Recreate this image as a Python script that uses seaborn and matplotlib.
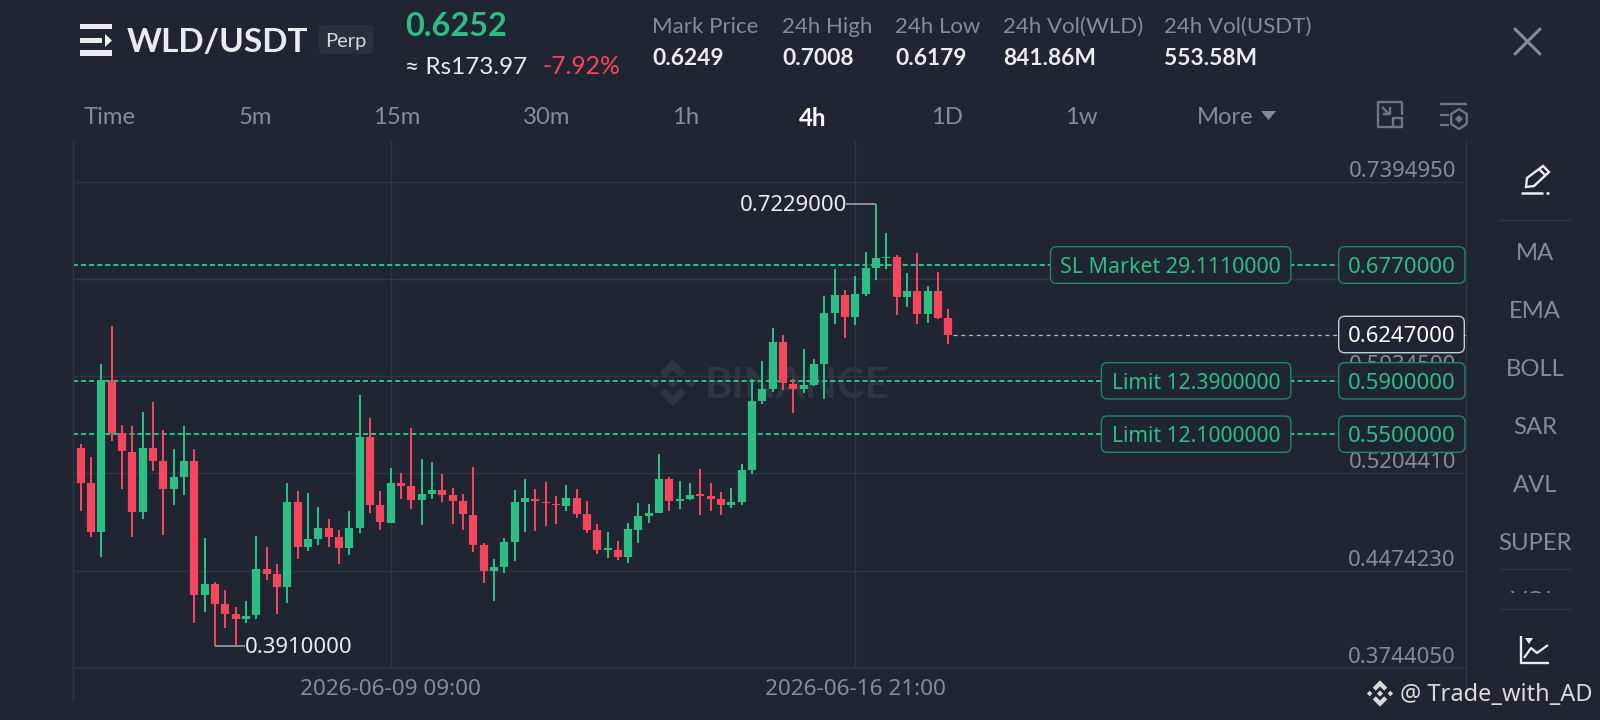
import numpy as np
import pandas as pd
import matplotlib
matplotlib.use("Agg")
import matplotlib.pyplot as plt
import seaborn as sns
from matplotlib.patches import FancyBboxPatch, Polygon, Rectangle

# Candles (first one is cut by the left edge)
start_index = -1
opens = [.5413, .5398, .51299, .47616, .58991, .55057, .53679, .49144, .5393, .52952, .50898, .518, .53002, .4288, .43757, .42229, .41502, .41101, .41377, .44835, .44509, .43507, .49871, .46538, .47115, .47916, .4724, .46463,
         .47967, .54757, .49645, .48342, .51299, .51073, .50046, .50522, .50773, .50422, .49946, .48919, .46664, .44684, .45035, .46889, .49921, .50146, .49921, .49771, .4962, .50197, .48969, .47766, .46288, .46288, .45762,
         .47813, .48868, .49094, .51599, .49971, .50121, .50472, .50321, .50096, .4967, .4987, .52301, .57462, .58389, .61947, .58765, .58389, .58715, .60268, .64127, .6543, .63826, .65555, .67509, .68211, .68311, .65279, .65755, .64052, .6578, .63701]
closes = [.5398, .51299, .47616, .59041, .55057, .53704, .49144, .5393, .52952, .50898, .518, .52977, .4288, .43732, .42229, .41502, .41101, .41352, .44835, .44509, .43507, .49871, .46538, .47115, .47916, .4724, .46463, .47916,
          .54757, .49695, .48367, .51299, .51124, .50046, .50497, .50773, .50447, .49971, .48969, .46689, .44709, .45035, .46889, .49921, .50171, .49946, .49796, .49645, .50197, .48994, .47791, .46288, .46413, .45762, .47841,
          .48868, .49094, .51599, .49996, .50121, .50447, .50346, .50121, .4967, .4987, .52301, .57462, .58389, .61947, .58815, .58389, .58665, .60243, .64127, .6543, .63826, .65555, .67484, .68211, .68336, .65279, .65755, .64052, .6578, .63701, .6247]
highs = [.5413, .5423, .53303, .60268, .6315, .55658, .55583, .56635, .57412, .55282, .53854, .55583, .53854, .47165, .43908, .43256, .42028, .42479, .4734, .46488, .4521, .51299, .50697, .50547, .49495, .48593, .47791, .49194,
         .57939, .56235, .50723, .52477, .52051, .55433, .53153, .52877, .52, .50973, .50472, .52502, .46789, .45586, .47165, .50823, .516, .50848, .51424, .50322, .51149, .50898, .49946, .48217, .47666, .46989, .48317,
         .49795, .49745, .53478, .5175, .51474, .51299, .52351, .51299, .50672, .50923, .52777, .59116, .60469, .62999, .62423, .59116, .61421, .60619, .65405, .67384, .65805, .66858, .68687, .7229, .7009, .68436, .67108, .68587, .66156, .67209, .64379]
lows = [.5398, .49244, .4729, .45787, .54506, .50848, .4729, .48643, .52201, .4744, .49695, .50422, .40776, .41627, .391, .4045, .39147, .40776, .41126, .44008, .41502, .42279, .45636, .46238, .46689, .46513, .4521, .45937,
        .47591, .49094, .47791, .48292, .50121, .49395, .48167, .50121, .49921, .48217, .47791, .46138, .43833, .42477, .44559, .45461, .47641, .47741, .48117, .48217, .49194, .48693, .47541, .46012, .45662, .45511, .45311,
        .46789, .48342, .49044, .49244, .49344, .50046, .48943, .49219, .48943, .4947, .4967, .52025, .57287, .58189, .58289, .5661, .58114, .5864, .57612, .63275, .62248, .63225, .65379, .66582, .67434, .63976, .64553, .633, .63325, .63651, .61794]

grid_prices = [0.7394950, 0.6664770, 0.5934590, 0.5204410, 0.4474230, 0.3744050]
# 0.6664770 sits fully behind the SL box in the reference, so no label for it
grid_labels = ["0.7394950", "", "0.5934590", "0.5204410", "0.4474230", "0.3744050"]
date_indices = [30, 75]
date_labels = ["2026-06-09 09:00", "2026-06-16 21:00"]
order_prices = [0.6770, 0.5900, 0.5500]
order_labels = ["SL Market 29.1110000", "Limit 12.3900000", "Limit 12.1000000"]
last_price = 0.6247
high_mark = 0.7229
low_mark = 0.3910

stat_names = ["Mark Price", "24h High", "24h Low", "24h Vol(WLD)", "24h Vol(USDT)"]
stat_values = ["0.6249", "0.7008", "0.6179", "841.86M", "553.58M"]
stat_x = [652, 782, 895, 1003, 1164]
tabs = ["Time", "5m", "15m", "30m", "1h", "4h", "1D", "1w", "More"]
tab_x = [110, 255, 397, 547, 686, 813, 947, 1081, 1225]
tools = ["MA", "EMA", "BOLL", "SAR", "AVL", "SUPER"]
tool_y = [251, 309, 367, 425, 484, 542]

BG = "#1f2631"
GRID = "#2f3642"
GREEN = "#2ebd85"
RED = "#f6465d"
MUTED = "#858c99"
LIGHT = "#eaecef"
MARK = "#2e3440"
PX = 0.72  # points per pixel at dpi 100
CHART_FONT = ["Noto Sans", "DejaVu Sans"]

sns.set_theme(style="dark", rc={"figure.facecolor": BG, "axes.facecolor": BG, "grid.color": GRID,
                                "lines.solid_capstyle": "butt", "axes.edgecolor": GRID})
plt.rcParams["font.family"] = ["Lato", "DejaVu Sans"]

# Candle table, two rows per candle so lineplot can draw the verticals
idx = np.arange(start_index, start_index + len(opens))
candles = pd.DataFrame({"idx": idx, "open": opens, "close": closes, "high": highs, "low": lows})
candles["dir"] = np.where(candles["close"] >= candles["open"], "up", "down")
wicks = candles.melt(id_vars=["idx", "dir"], value_vars=["high", "low"], value_name="price")
bodies = candles.melt(id_vars=["idx", "dir"], value_vars=["open", "close"], value_name="price")
palette = {"up": GREEN, "down": RED}

fig = plt.figure(figsize=(16, 7.2), dpi=100)


def pixel_axes(zorder):
    a = fig.add_axes([0, 0, 1, 1], zorder=zorder)
    a.set_xlim(0, 1600)
    a.set_ylim(720, 0)
    a.axis("off")
    return a


back = pixel_axes(0)
front = pixel_axes(3)

# Chart area in pixels of the reference
LEFT, RIGHT, TOP, BOTTOM = 72.7, 1465.7, 140.0, 667.7
X0, DX = 80.67, 10.33
PX_PER_PRICE = 1330.4
ax = fig.add_axes([LEFT / 1600, 1 - BOTTOM / 720, (RIGHT - LEFT) / 1600, (BOTTOM - TOP) / 720], zorder=1)
ax.patch.set_alpha(0)

sns.lineplot(data=wicks, x="idx", y="price", units="idx", estimator=None, hue="dir", palette=palette,
             sort=False, legend=False, linewidth=1.45, solid_capstyle="butt", ax=ax, zorder=3)
sns.lineplot(data=bodies, x="idx", y="price", units="idx", estimator=None, hue="dir", palette=palette,
             sort=False, legend=False, linewidth=8.2 * PX, solid_capstyle="butt", ax=ax, zorder=4)

ax.set_xlim((LEFT - X0) / DX, (RIGHT - X0) / DX)
ax.set_ylim(grid_prices[-1], grid_prices[-1] + (BOTTOM - TOP) / PX_PER_PRICE)
ax.set_xlabel("")
ax.set_ylabel("")
ax.set_xticks(date_indices, date_labels, fontsize=16.2, color=MUTED, family=CHART_FONT)
ax.yaxis.tick_right()
ax.set_yticks(grid_prices, grid_labels, fontsize=15.9, color=MUTED, family=CHART_FONT)
ax.tick_params(axis="x", length=0, pad=8)
ax.tick_params(axis="y", length=0, pad=-7)
plt.setp(ax.get_yticklabels(), ha="right", va="bottom")
ax.grid(True, color=GRID, linewidth=1.0)
ax.set_axisbelow(True)
for side in ["top", "left", "right"]:
    ax.spines[side].set_visible(False)
ax.spines["bottom"].set_color(GRID)

# Open orders and last price
for p in order_prices:
    ax.axhline(p, color=GREEN, linewidth=1.45, dashes=(2.5, 1.5), zorder=2)
ax.hlines(last_price, idx[-1] + 0.4, ax.get_xlim()[1], color="#b5b9c0", linewidth=0.9, linestyles=(0, (3.2, 3.0)), zorder=2)

# High and low markers
ax.plot([77 - 2.87, 77], [high_mark, high_mark], color="#9a9fa8", linewidth=1.2, zorder=3)
ax.annotate(f"{high_mark:.7f}", (77 - 2.8, high_mark), xytext=(0, -1), textcoords="offset points", color=LIGHT,
            fontsize=15.9, ha="right", va="center", family=CHART_FONT, zorder=5)
ax.plot([13, 15.9], [low_mark, low_mark], color="#9a9fa8", linewidth=1.2, zorder=3)
ax.annotate(f"{low_mark:.7f}", (15.85, low_mark), xytext=(0, -1), textcoords="offset points", color=LIGHT,
            fontsize=15.9, ha="left", va="center", family=CHART_FONT, zorder=5)


def binance_logo(a, cx, cy, r, color, zorder=1):
    top = np.array([(-.52, -.42), (0, -.94), (.52, -.42), (.3, -.2), (0, -.5), (-.3, -.2)])
    for flip in (1, -1):
        a.add_patch(Polygon(np.c_[cx + top[:, 0] * r, cy + flip * top[:, 1] * r], color=color, lw=0, zorder=zorder))
    for dx, s in ((0, .22), (-.74, .2), (.74, .2)):
        a.add_patch(Polygon([(cx + (dx - s) * r, cy), (cx + dx * r, cy - s * r), (cx + (dx + s) * r, cy),
                             (cx + dx * r, cy + s * r)], color=color, lw=0, zorder=zorder))


# Watermark under the candles
binance_logo(back, 672.7, 383, 25, MARK)
back.text(797, 386, "BINANCE", color=MARK, fontsize=30, fontweight="bold", ha="center", va="center")


def box(a, x0, y0, x1, y1, edge, text, color, fontsize=15.9):
    a.add_patch(FancyBboxPatch((x0 + 5, y0 + 5), x1 - x0 - 10, y1 - y0 - 10, boxstyle="round,pad=5,rounding_size=6",
                               fc=BG, ec=edge, lw=1.0, zorder=4))
    a.text((x0 + x1) / 2, (y0 + y1) / 2 + 2.5, text, color=color, fontsize=fontsize, ha="center", va="center",
           family=CHART_FONT, zorder=5)


BOX_EDGE = "#23836b"
box(front, 1050.5, 246.7, 1290.8, 283.3, BOX_EDGE, order_labels[0], GREEN, fontsize=15.4)
box(front, 1101.4, 362.7, 1290.8, 399, BOX_EDGE, order_labels[1], GREEN, fontsize=15.2)
box(front, 1101.4, 416, 1290.8, 452.3, BOX_EDGE, order_labels[2], GREEN, fontsize=15.2)
box(front, 1338.7, 246.7, 1465, 283.3, BOX_EDGE, f"{order_prices[0]:.7f}", GREEN)
box(front, 1338.7, 362.7, 1465, 399, BOX_EDGE, f"{order_prices[1]:.7f}", GREEN)
box(front, 1338.7, 416, 1465, 452.3, BOX_EDGE, f"{order_prices[2]:.7f}", GREEN)
box(front, 1338.7, 316.3, 1464.3, 352.7, "#c9ccd1", f"{last_price:.7f}", "#ffffff")

# Frame lines
front.plot([LEFT, LEFT], [TOP, 700], color=GRID, lw=1.0)
front.plot([RIGHT, RIGHT], [TOP, 690], color=GRID, lw=1.0)

# Header
for y0, y1, x1 in ((24, 28.5, 112), (38, 43, 102), (50, 56, 112)):
    front.add_patch(Rectangle((80, y0), x1 - 80, y1 - y0, color=LIGHT, lw=0))
front.add_patch(Polygon([(105, 34), (112, 40.5), (105, 47)], color=LIGHT, lw=0))
front.text(127, 42, "WLD/USDT", color=LIGHT, fontsize=24, fontweight="bold", va="center")
front.add_patch(FancyBboxPatch((323, 29), 46, 21, boxstyle="round,pad=4,rounding_size=4", fc="#2a313d", ec="none"))
front.text(346, 41, "Perp", color="#d5d8dd", fontsize=14.5, ha="center", va="center")
front.text(405, 27, "0.6252", color=GREEN, fontsize=23.4, fontweight="bold", va="center")
front.text(405, 67, "≈ Rs173.97", color=LIGHT, fontsize=17.5, va="center")
front.text(543, 67, "-7.92%", color=RED, fontsize=17.8, va="center")
for x, name, value in zip(stat_x, stat_names, stat_values):
    front.text(x, 27, name, color=MUTED, fontsize=16, va="center")
    front.text(x, 58.5, value, color=LIGHT, fontsize=16.4, fontweight="bold", va="center")

# Interval tabs
for x, label in zip(tab_x, tabs):
    active = label == "4h"
    front.text(x, 118, label, color="#ffffff" if active else MUTED, fontsize=17.2, ha="center", va="center",
               fontweight="bold" if active else "normal")
front.add_patch(Polygon([(1261, 111), (1276, 111), (1268.5, 120)], color=MUTED, lw=0))

# Top right icons
front.plot([1515, 1540], [29, 54], color=MUTED, lw=2.2, solid_capstyle="round")
front.plot([1540, 1515], [29, 54], color=MUTED, lw=2.2, solid_capstyle="round")
ICON = "#6f7683"
front.plot([1402, 1378, 1378, 1392], [102, 102, 127, 127], color=ICON, lw=1.7)
front.plot([1402, 1402], [102, 115], color=ICON, lw=1.7)
front.add_patch(Rectangle((1392.5, 118), 9, 9, fc="none", ec=ICON, lw=1.7))
front.plot([1382, 1389], [107, 114], color=ICON, lw=1.7)
front.plot([1383, 1390, 1390], [114, 114, 107], color=ICON, lw=1.7)
front.plot([1440, 1467], [104, 104], color=ICON, lw=1.7)
front.plot([1440, 1449], [115, 115], color=ICON, lw=1.7)
front.plot([1440, 1449], [125, 125], color=ICON, lw=1.7)
hex_t = np.deg2rad(np.arange(30, 391, 60))
front.plot(1459 + 9 * np.cos(hex_t), 119 + 10 * np.sin(hex_t), color=ICON, lw=1.7)
front.add_patch(Polygon([(1455, 119), (1459, 115), (1463, 119), (1459, 123)], color=ICON, lw=0))

# Side toolbar
for y, label in zip(tool_y, tools):
    front.text(1535, y + 2, label, color=MUTED, fontsize=17.2, ha="center", va="center")
for y in (220, 569, 609):
    front.plot([1498, 1572], [y, y], color=GRID, lw=1.0)
clipped = front.text(1535, 602, "VOL", color=MUTED, fontsize=17.2, ha="center", va="center")
clipped.set_clip_path(Rectangle((1498, 585), 74, 8, transform=front.transData))
clipped.set_clip_on(True)

# Pen
front.add_patch(Polygon([(1526, 187), (1527, 178), (1543, 166), (1549, 172), (1534, 186)], fc="none", ec=LIGHT, lw=1.7))
front.plot([1539, 1545], [169, 175], color=LIGHT, lw=1.7)
front.plot([1521, 1543], [192.5, 192.5], color=LIGHT, lw=1.8)
front.plot([1546, 1549], [192.5, 192.5], color=LIGHT, lw=1.8)

# Chart type icon
front.plot([1521, 1521, 1549], [636, 663, 663], color=LIGHT, lw=1.7)
front.plot([1524, 1531, 1537, 1548], [658, 648, 653, 645], color=LIGHT, lw=1.6)
front.add_patch(Polygon([(1525, 638), (1533, 638), (1529, 644)], color=LIGHT, lw=0))

# Credit
binance_logo(front, 1380, 693.5, 14, "#d9d9d9", zorder=6)
front.text(1400, 695, "@ Trade_with_AD", color="#d9d9d9", fontsize=17, va="center", family=CHART_FONT, zorder=6)

fig.savefig("out.png", dpi=100, facecolor=BG)
